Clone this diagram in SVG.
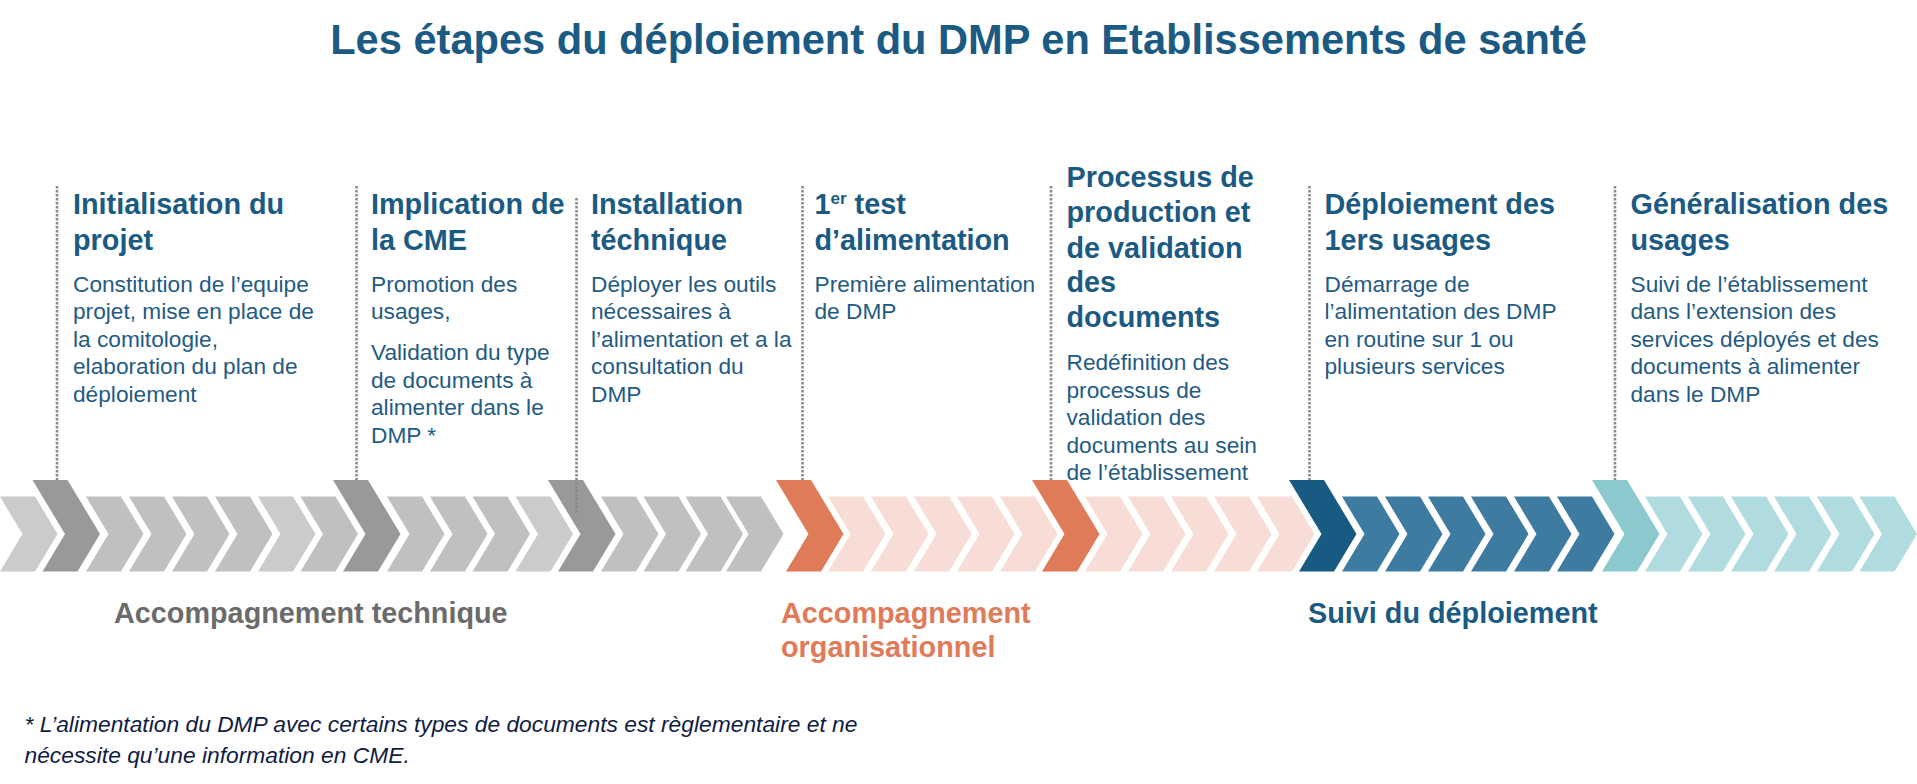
<svg xmlns="http://www.w3.org/2000/svg" xmlns:xlink="http://www.w3.org/1999/xlink" width="1917" height="784" viewBox="0 0 1917 784">
<style>
text{font-family:"Liberation Sans",Arial,sans-serif}
.title{font-size:41.6px;font-weight:bold;fill:#1a5a83}
.h{font-size:28.8px;font-weight:bold;fill:#1a5a83}
.b{font-size:22.7px;fill:#1f5b84}
.lab{font-size:28.8px;font-weight:bold}
.foot{font-size:22.8px;font-style:italic;fill:#111c44}
.g1{fill:#c0c0c0}.g0{fill:#cbcbcd}.gd{fill:#999999}
.ob{fill:#e07b5a}.op{fill:#f7ddd5}
.bd{fill:#175a82}.bm{fill:#3e7ba0}
.tb{fill:#8bc9cf}.tl{fill:#b0dce0}
.dot{stroke:#8a8a8a;stroke-width:2.6;stroke-dasharray:2.4 1.6;fill:none}
</style>
<defs>
<polygon id="s" points="0,496.5 35,496.5 57.5,534 35,571.5 0,571.5 22.5,534"/>
<polygon id="bg" points="-10,480 25,480 57.5,534 35,571.5 0,571.5 22.5,534"/>
</defs>
<rect width="1917" height="784" fill="#ffffff"/>
<text class="title" x="958.5" y="54" text-anchor="middle">Les étapes du déploiement du DMP en Etablissements de santé</text>

<g id="band-technique">
<use xlink:href="#s" x="0" class="g0"/>
<use xlink:href="#bg" x="42.5" class="gd"/>
<use xlink:href="#s" x="86" class="g1"/>
<use xlink:href="#s" x="129" class="g1"/>
<use xlink:href="#s" x="172" class="g1"/>
<use xlink:href="#s" x="215" class="g1"/>
<use xlink:href="#s" x="258" class="g0"/>
<use xlink:href="#s" x="300.5" class="g1"/>
<use xlink:href="#bg" x="343" class="gd"/>
<use xlink:href="#s" x="387" class="g1"/>
<use xlink:href="#s" x="430" class="g1"/>
<use xlink:href="#s" x="472.5" class="g1"/>
<use xlink:href="#s" x="515.5" class="g0"/>
<use xlink:href="#bg" x="558" class="gd"/>
<use xlink:href="#s" x="601" class="g1"/>
<use xlink:href="#s" x="643.5" class="g1"/>
<use xlink:href="#s" x="685.5" class="g1"/>
<use xlink:href="#s" x="726" class="g1"/>
</g>
<g id="band-organisationnel">
<use xlink:href="#bg" x="786" class="ob"/>
<use xlink:href="#s" x="828" class="op"/>
<use xlink:href="#s" x="871" class="op"/>
<use xlink:href="#s" x="914" class="op"/>
<use xlink:href="#s" x="957" class="op"/>
<use xlink:href="#s" x="1000" class="op"/>
<use xlink:href="#bg" x="1042" class="ob"/>
<use xlink:href="#s" x="1085" class="op"/>
<use xlink:href="#s" x="1128" class="op"/>
<use xlink:href="#s" x="1171" class="op"/>
<use xlink:href="#s" x="1214" class="op"/>
<use xlink:href="#s" x="1257" class="op"/>
</g>
<g id="band-suivi">
<use xlink:href="#bg" x="1299" class="bd"/>
<use xlink:href="#s" x="1342" class="bm"/>
<use xlink:href="#s" x="1385" class="bm"/>
<use xlink:href="#s" x="1428" class="bm"/>
<use xlink:href="#s" x="1471" class="bm"/>
<use xlink:href="#s" x="1514" class="bm"/>
<use xlink:href="#s" x="1557" class="bm"/>
<use xlink:href="#bg" x="1602" class="tb"/>
<use xlink:href="#s" x="1645" class="tl"/>
<use xlink:href="#s" x="1688" class="tl"/>
<use xlink:href="#s" x="1731" class="tl"/>
<use xlink:href="#s" x="1774" class="tl"/>
<use xlink:href="#s" x="1817" class="tl"/>
<use xlink:href="#s" x="1859.5" class="tl"/>
</g>

<g id="connectors">
<line class="dot" x1="57" y1="186" x2="57" y2="480"/>
<line class="dot" x1="356.5" y1="186" x2="356.5" y2="480"/>
<line class="dot" x1="576.5" y1="198" x2="576.5" y2="513"/>
<line class="dot" x1="802.5" y1="186" x2="802.5" y2="480"/>
<line class="dot" x1="1051" y1="186" x2="1051" y2="480"/>
<line class="dot" x1="1309.5" y1="186" x2="1309.5" y2="480"/>
<line class="dot" x1="1615" y1="186" x2="1615" y2="480"/>
</g>

<g id="step1">
<text class="h"><tspan x="73" y="214">Initialisation du</tspan><tspan x="73" y="249.5">projet</tspan></text>
<text class="b"><tspan x="73" y="291.5">Constitution de l’equipe</tspan><tspan x="73" y="319">projet, mise en place de</tspan><tspan x="73" y="346.5">la comitologie,</tspan><tspan x="73" y="374">elaboration du plan de</tspan><tspan x="73" y="401.5">déploiement</tspan></text>
</g>
<g id="step2">
<text class="h"><tspan x="371" y="214">Implication de</tspan><tspan x="371" y="249.5">la CME</tspan></text>
<text class="b"><tspan x="371" y="291.5">Promotion des</tspan><tspan x="371" y="319">usages,</tspan><tspan x="371" y="360">Validation du type</tspan><tspan x="371" y="387.5">de documents à</tspan><tspan x="371" y="415">alimenter dans le</tspan><tspan x="371" y="442.5">DMP *</tspan></text>
</g>
<g id="step3">
<text class="h"><tspan x="591" y="214">Installation</tspan><tspan x="591" y="249.5">téchnique</tspan></text>
<text class="b"><tspan x="591" y="291.5">Déployer les outils</tspan><tspan x="591" y="319">nécessaires à</tspan><tspan x="591" y="346.5">l’alimentation et a la</tspan><tspan x="591" y="374">consultation du</tspan><tspan x="591" y="401.5">DMP</tspan></text>
</g>
<g id="step4">
<text class="h" x="814.5" y="214">1<tspan font-size="17" dy="-10">er</tspan><tspan dy="10"> test</tspan></text>
<text class="h" x="814.5" y="249.5">d’alimentation</text>
<text class="b"><tspan x="814.5" y="291.5">Première alimentation</tspan><tspan x="814.5" y="319">de DMP</tspan></text>
</g>
<g id="step5">
<text class="h"><tspan x="1066.5" y="186.5">Processus de</tspan><tspan x="1066.5" y="222">production et</tspan><tspan x="1066.5" y="257.5">de validation</tspan><tspan x="1066.5" y="292">des</tspan><tspan x="1066.5" y="327">documents</tspan></text>
<text class="b"><tspan x="1066.5" y="370">Redéfinition des</tspan><tspan x="1066.5" y="397.5">processus de</tspan><tspan x="1066.5" y="425">validation des</tspan><tspan x="1066.5" y="452.5">documents au sein</tspan><tspan x="1066.5" y="480">de l’établissement</tspan></text>
</g>
<g id="step6">
<text class="h"><tspan x="1324.5" y="214">Déploiement des</tspan><tspan x="1324.5" y="249.5">1ers usages</tspan></text>
<text class="b"><tspan x="1324.5" y="291.5">Démarrage de</tspan><tspan x="1324.5" y="319">l’alimentation des DMP</tspan><tspan x="1324.5" y="346.5">en routine sur 1 ou</tspan><tspan x="1324.5" y="374">plusieurs services</tspan></text>
</g>
<g id="step7">
<text class="h"><tspan x="1630.5" y="214">Généralisation des</tspan><tspan x="1630.5" y="249.5">usages</tspan></text>
<text class="b"><tspan x="1630.5" y="291.5">Suivi de l’établissement</tspan><tspan x="1630.5" y="319">dans l’extension des</tspan><tspan x="1630.5" y="346.5">services déployés et des</tspan><tspan x="1630.5" y="374">documents à alimenter</tspan><tspan x="1630.5" y="401.5">dans le DMP</tspan></text>
</g>

<g id="labels">
<text class="lab" x="114" y="622.5" fill="#6b6b6b">Accompagnement technique</text>
<text class="lab" fill="#e07a59"><tspan x="781" y="622.5">Accompagnement</tspan><tspan x="781" y="657">organisationnel</tspan></text>
<text class="lab" x="1308" y="622.5" fill="#1a5a83">Suivi du déploiement</text>
</g>
<g id="footnote">
<text class="foot"><tspan x="24.5" y="731.5">* L’alimentation du DMP avec certains types de documents est règlementaire et ne</tspan><tspan x="24.5" y="763">nécessite qu’une information en CME.</tspan></text>
</g>
</svg>
